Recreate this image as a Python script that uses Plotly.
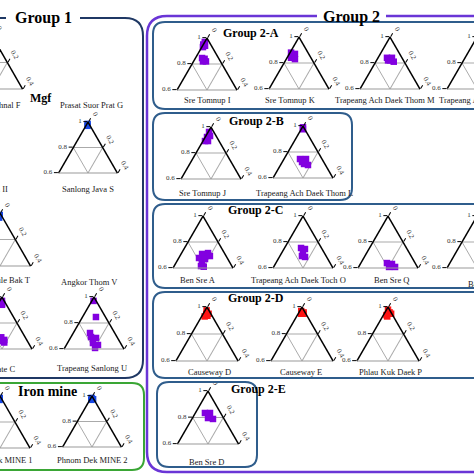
import math
import plotly.graph_objects as go

# ---------------- data: a = apex axis (0.6-1), c = right-edge axis (0-0.4) ----------------
# Group 1
thnal_F_a = [0.99]
thnal_F_c = [0.004]
sanlong_S_a = [0.985, 0.97]
sanlong_S_c = [0.005, 0.012]
toule_bak_T_a = [0.985, 0.965]
toule_bak_T_c = [0.006, 0.012]
sanlong_U_a = [0.97, 0.846, 0.723, 0.692, 0.685, 0.646, 0.631, 0.608]
sanlong_U_c = [0.012, 0.09, 0.112, 0.134, 0.171, 0.17, 0.211, 0.203]
gate_C_a = [0.97, 0.95, 0.94, 0.69, 0.67, 0.66, 0.65]
gate_C_c = [0.015, 0.025, 0.03, 0.15, 0.18, 0.17, 0.19]
mine1_a = [0.985, 0.97]
mine1_c = [0.006, 0.012]
mine2_a = [0.985, 0.97, 0.975]
mine2_c = [0.005, 0.01, 0.02]
# Group 2-A
tomnup_I_a = [0.97, 0.95, 0.93, 0.94, 0.846, 0.84, 0.82, 0.82]
tomnup_I_c = [0.0, 0.0, 0.008, 0.017, 0.044, 0.064, 0.063, 0.083]
tomnup_K_a = [0.88, 0.87, 0.84, 0.83]
tomnup_K_c = [0.007, 0.038, 0.027, 0.058]
thom_M_a = [0.84, 0.84, 0.82, 0.81, 0.82]
thom_M_c = [0.06, 0.093, 0.09, 0.12, 0.077]
thom_N_a = []
thom_N_c = []
# Group 2-B
tomnup_J_a = [0.962, 0.923, 0.892, 0.931, 0.892]
tomnup_J_c = [0.006, 0.012, 0.014, 0.028, 0.034]
thom_L_a = [0.99, 0.975, 0.746, 0.746, 0.708, 0.70, 0.723]
thom_L_c = [0.005, 0.012, 0.107, 0.147, 0.153, 0.183, 0.132]
# Group 2-C
sre_A_a = [0.708, 0.715, 0.677, 0.669, 0.692, 0.638, 0.61, 0.615]
sre_A_c = [0.14, 0.176, 0.135, 0.179, 0.2, 0.174, 0.2, 0.179]
toch_O_a = [0.754, 0.746, 0.715, 0.685, 0.692]
toch_O_c = [0.11, 0.14, 0.142, 0.171, 0.147]
sre_Q_a = [0.638, 0.631, 0.608, 0.608]
sre_Q_c = [0.174, 0.211, 0.203, 0.243]
sre_B_a = []
sre_B_c = []
# Group 2-D
causeway_D_a = [0.975, 0.95, 0.935, 0.95, 0.93]
causeway_D_c = [0.01, 0.02, 0.035, 0.035, 0.02]
causeway_E_a = [0.97, 0.95, 0.95, 0.96]
causeway_E_c = [0.01, 0.02, 0.035, 0.03]
phlau_P_a = [0.98, 0.96, 0.94, 0.95, 0.93]
phlau_P_c = [0.01, 0.03, 0.02, 0.045, 0.03]
# Group 2-E
sre_D_a = [0.834, 0.834, 0.796, 0.789]
sre_D_c = [0.063, 0.096, 0.102, 0.138]

# ---------------- layout helpers (pixel geometry) ----------------
L, R = 40, 40
WIMG, HIMG = 474, 474
WF = WIMG + L + R

def fx(x):
    return (x + L) / WF

def fy(y):
    return 1 - y / HIMG

BLUE = '#1747e6'
PURPLE = '#8200e0'
RED = '#ff1414'
SERIF = 'Liberation Serif'

# (a, c, color, apex_x, apex_y, height)
panels = [
    (thnal_F_a, thnal_F_c, BLUE, -8, 36, 53),
    (sanlong_S_a, sanlong_S_c, BLUE, 88, 122, 51),
    (toule_bak_T_a, toule_bak_T_c, BLUE, 0, 213, 53),
    (sanlong_U_a, sanlong_U_c, PURPLE, 94, 297, 52),
    (gate_C_a, gate_C_c, PURPLE, 2, 297, 52),
    (mine1_a, mine1_c, BLUE, 0, 396, 52),
    (mine2_a, mine2_c, BLUE, 92, 396, 51),
    (tomnup_I_a, tomnup_I_c, PURPLE, 207, 38, 52),
    (tomnup_K_a, tomnup_K_c, PURPLE, 299, 37, 52),
    (thom_M_a, thom_M_c, PURPLE, 390, 37, 52),
    (thom_N_a, thom_N_c, PURPLE, 477, 37, 52),
    (tomnup_J_a, tomnup_J_c, PURPLE, 211, 127, 52),
    (thom_L_a, thom_L_c, PURPLE, 303, 126, 52),
    (sre_A_a, sre_A_c, PURPLE, 203, 216, 52),
    (toch_O_a, toch_O_c, PURPLE, 303, 216, 52),
    (sre_Q_a, sre_Q_c, PURPLE, 388, 216, 52),
    (sre_B_a, sre_B_c, PURPLE, 477, 216, 52),
    (causeway_D_a, causeway_D_c, RED, 207, 307, 54),
    (causeway_E_a, causeway_E_c, RED, 302, 307, 54),
    (phlau_P_a, phlau_P_c, RED, 388, 307, 54),
    (sre_D_a, sre_D_c, PURPLE, 208, 391, 53),
]

# site labels: (text, x, y, anchor)
labels = [
    ('Spean Thnal F', 23, 105, 'right'),
    ('Prasat Suor Prat G', 91, 105, 'center'),
    ('Sanlong Java S', 88, 189, 'center'),
    ('Beng Mealea II', 10, 189, 'right'),
    ('Spean Toule Bak T', 33, 280, 'right'),
    ('Angkor Thom V', 89, 282, 'center'),
    ('Angkor Thom South Gate C', 18, 369, 'right'),
    ('Trapeang Sanlong U', 92, 368, 'center'),
    ('Phnom Dek MINE 1', 35, 460, 'right'),
    ('Phnom Dek MINE 2', 92, 460, 'center'),
    ('Sre Tomnup I', 207, 100, 'center'),
    ('Sre Tomnup K', 290, 100, 'center'),
    ('Trapeang Ach Daek Thom M', 385, 100, 'center'),
    ('Trapeang Ach Daek Thom N', 437, 100, 'left'),
    ('Sre Tomnup J', 203, 193, 'center'),
    ('Trapeang Ach Daek Thom L', 304, 193, 'center'),
    ('Ben Sre A', 198, 280, 'center'),
    ('Trapeang Ach Daek Toch O', 298, 280, 'center'),
    ('Ben Sre Q', 391, 280, 'center'),
    ('Ben Sre B', 466, 284, 'left'),
    ('Causeway D', 210, 372, 'center'),
    ('Causeway E', 301, 372, 'center'),
    ('Phlau Kuk Daek P', 390, 372, 'center'),
    ('Ben Sre D', 206, 462, 'center'),
]

# bold titles: (text, x, y, size)
titles = [
    ('Group 1', 43, 18, 16),
    ('Group 2', 351, 17, 16),
    ('Group 2-A', 251, 33, 12),
    ('Group 2-B', 256, 121, 12),
    ('Group 2-C', 255, 210, 12),
    ('Group 2-D', 256, 298, 12),
    ('Group 2-E', 258, 389, 12),
    ('Iron mine', 47, 391, 14),
    ('Mgf', 41, 98, 12),
]

fig = go.Figure()
layout_ternaries = {}
tickfont = dict(family=SERIF, size=7, color='#333')
for i, (a, c, col, ax_, ay_, h) in enumerate(panels):
    name = 'ternary' if i == 0 else f'ternary{i + 1}'
    b = [1 - ai - ci for ai, ci in zip(a, c)]
    fig.add_trace(go.Scatterternary(
        a=a, b=b, c=c, mode='markers', subplot=name, showlegend=False,
        cliponaxis=False, hoverinfo='skip',
        marker=dict(symbol='square', size=6.5, color=col, line=dict(width=0))))
    w = 2 * h / math.sqrt(3)
    show_a = ax_ > 20          # left-edge labels fall outside the window otherwise
    show_c = ax_ < 460         # right-edge labels fall outside the window otherwise
    layout_ternaries[name] = dict(
        domain=dict(x=[fx(ax_ - w / 2), fx(ax_ + w / 2)], y=[fy(ay_ + h), fy(ay_)]),
        sum=1, bgcolor='rgba(0,0,0,0)',
        aaxis=dict(min=0.6, tickvals=[0.6, 0.8, 1.0], ticktext=['0.6', '0.8', '1'],
                   showticklabels=show_a,
                   ticks='outside', ticklen=4, tickcolor='black', linecolor='black', linewidth=1.5,
                   gridcolor='#aaaaaa', gridwidth=1, tickfont=tickfont, title=dict(text='')),
        baxis=dict(min=0, tickvals=[0, 0.2, 0.4], showticklabels=False, ticks='',
                   linecolor='#999999', linewidth=1, gridcolor='#aaaaaa', gridwidth=1,
                   title=dict(text='')),
        caxis=dict(min=0, tickvals=[0, 0.2, 0.4], ticktext=['0', '0.2', '0.4'],
                   showticklabels=show_c,
                   ticks='outside', ticklen=4, tickcolor='black', tickangle=60,
                   linecolor='black', linewidth=1.5, gridcolor='#aaaaaa', gridwidth=1,
                   tickfont=tickfont, title=dict(text='')),
    )

annotations = []
for t, x, y, anc in labels:
    annotations.append(dict(text=t, x=fx(x), y=fy(y), xref='paper', yref='paper',
                            xanchor=anc, yanchor='middle', showarrow=False,
                            font=dict(family=SERIF, size=8.5, color='#222')))
for t, x, y, s in titles:
    annotations.append(dict(text=f'<b>{t}</b>', x=fx(x), y=fy(y), xref='paper', yref='paper',
                            xanchor='center', yanchor='middle', showarrow=False,
                            font=dict(family=SERIF, size=s, color='black')))


def P(x, y):
    return f'{fx(x):.5f},{fy(y):.5f}'


def rrect(x0, y0, x1, y1, r):
    return (f'M {P(x0 + r, y0)} L {P(x1 - r, y0)} Q {P(x1, y0)} {P(x1, y0 + r)} '
            f'L {P(x1, y1 - r)} Q {P(x1, y1)} {P(x1 - r, y1)} L {P(x0 + r, y1)} '
            f'Q {P(x0, y1)} {P(x0, y1 - r)} L {P(x0, y0 + r)} Q {P(x0, y0)} {P(x0 + r, y0)} Z')


shapes = []
G1 = '#1f3864'
SUB = '#2f5d8c'
PUR = '#6a35d6'
GRN = '#3aa635'
# group 1 frame (open for title)
shapes.append(dict(type='path', xref='paper', yref='paper', line=dict(color=G1, width=2),
                   path=f'M {P(-30, 18)} L {P(6, 18)}'))
shapes.append(dict(type='path', xref='paper', yref='paper', line=dict(color=G1, width=2),
                   path=f'M {P(80, 18)} L {P(125, 18)} Q {P(143, 18)} {P(143, 36)} '
                        f'L {P(143, 360)} Q {P(143, 378)} {P(125, 378)} L {P(-30, 378)}'))
# group 2 frame
shapes.append(dict(type='path', xref='paper', yref='paper', line=dict(color=PUR, width=2.5),
                   path=f'M {P(317, 16)} L {P(167, 16)} Q {P(147, 16)} {P(147, 36)} '
                        f'L {P(147, 452)} Q {P(147, 472)} {P(167, 472)} L {P(520, 472)}'))
shapes.append(dict(type='path', xref='paper', yref='paper', line=dict(color=PUR, width=2.5),
                   path=f'M {P(386, 16)} L {P(520, 16)}'))
# sub-group boxes
for x0, y0, x1, y1 in [(153, 22, 520, 109), (153, 113, 352, 200), (153, 204, 520, 288),
                       (153, 292, 520, 378), (157, 382, 257, 467)]:
    shapes.append(dict(type='path', xref='paper', yref='paper', line=dict(color=SUB, width=2),
                       path=rrect(x0, y0, x1, y1, 12)))
# iron mine box
shapes.append(dict(type='path', xref='paper', yref='paper', line=dict(color=GRN, width=2),
                   path=rrect(-30, 383, 144, 470, 12)))

fig.update_layout(
    width=WF, height=HIMG, margin=dict(l=0, r=0, t=0, b=0),
    paper_bgcolor='white', plot_bgcolor='white',
    annotations=annotations, shapes=shapes, showlegend=False,
    **layout_ternaries,
)

post = ("document.documentElement.style.overflow='hidden';"
        "document.body.style.margin='0';document.body.style.overflow='hidden';"
        "var d=document.getElementById('{plot_id}');"
        "d.style.position='absolute';d.style.left='-" + str(L) + "px';d.style.top='0px';")

fig.write_html("out.html", config={'displayModeBar': False}, post_script=post)
